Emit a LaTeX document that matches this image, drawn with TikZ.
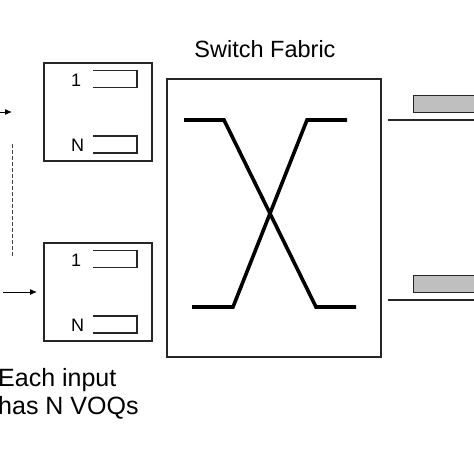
\documentclass[tikz,border=0pt]{standalone}
\usepackage{fontspec}
\usetikzlibrary{arrows.meta}
\setmainfont{Liberation Sans}
\begin{document}
\begin{tikzpicture}[x=1pt,y=-1pt,
  boxst/.style={draw=black!85, line width=1.2pt, inner sep=0pt, fill=white},
  fabline/.style={line width=3.6pt, line join=miter},
  queue/.style={draw=black!85, line width=1.2pt},
  outq/.style={draw=black!85, fill=black!25, line width=1.2pt, inner sep=0pt},
  lbl/.style={inner sep=0pt, anchor=base west, font=\fontsize{18}{20}\selectfont},
  bigtxt/.style={inner sep=0pt, font=\fontsize{25}{28}\selectfont},
  arr/.style={-{Latex[length=7pt,width=6pt]}, line width=1pt}]
\useasboundingbox (0,0) rectangle (474,474);
\fill[white] (0,0) rectangle (474,474);

% switch fabric
\node[boxst, minimum width=214pt, minimum height=278pt] (fab) at (274,218) {};
\node[inner sep=0pt, anchor=base, font=\fontsize{23.5}{26}\selectfont] (title) at (265,57) {Switch Fabric};
\draw[fabline] (184,120) -- (224,120) -- (316,307) -- (356,307);
\draw[fabline] (192,307) -- (233,307) -- (307,120) -- (347,120);

% input boxes
\node[boxst, minimum width=108pt, minimum height=98pt] (in1) at (98,112) {};
\node[boxst, minimum width=108pt, minimum height=98pt] (in2) at (98,292) {};

\node[lbl] (l11) at (71,86) {1};
\node[lbl] (l1n) at (71,151) {N};
\node[lbl] (l21) at (71,266) {1};
\node[lbl] (l2n) at (71,331) {N};

\draw[queue] (93,70.5) -- (137,70.5) -- (137,87.5) -- (93,87.5);
\draw[queue] (93,136) -- (137,136) -- (137,153) -- (93,153);
\draw[queue] (93,250.5) -- (137,250.5) -- (137,267.5) -- (93,267.5);
\draw[queue] (93,316) -- (137,316) -- (137,333) -- (93,333);

% input arrows and dashed line
\coordinate (a1s) at (-2,112);
\coordinate (a1e) at (12,112);
\draw[arr] (a1s) -- (a1e);
\coordinate (a2s) at (3,292);
\coordinate (a2e) at (37,292);
\draw[arr] (a2s) -- (a2e);
\coordinate (d1) at (12,144);
\coordinate (d2) at (12,256);
\draw[line width=1pt, dash pattern=on 3.5pt off 2.5pt, black!75] (d1) -- (d2);

% outputs
\node[outq, minimum width=70pt, minimum height=17pt, anchor=north west] (o1) at (413,95) {};
\node[outq, minimum width=70pt, minimum height=17pt, anchor=north west] (o2) at (413,275) {};
\coordinate (ol1) at (388,120);
\coordinate (ol1e) at (480,120);
\coordinate (ol2) at (388,300);
\coordinate (ol2e) at (480,300);
\draw[line width=1.2pt, black!85] (ol1) -- (ol1e);
\draw[line width=1.2pt, black!85] (ol2) -- (ol2e);

% caption
\node[bigtxt, anchor=base west] (c1) at (-2,386) {Each input};
\node[bigtxt, anchor=base west] (c2) at (-2,414) {has N VOQs};
\end{tikzpicture}
\end{document}
